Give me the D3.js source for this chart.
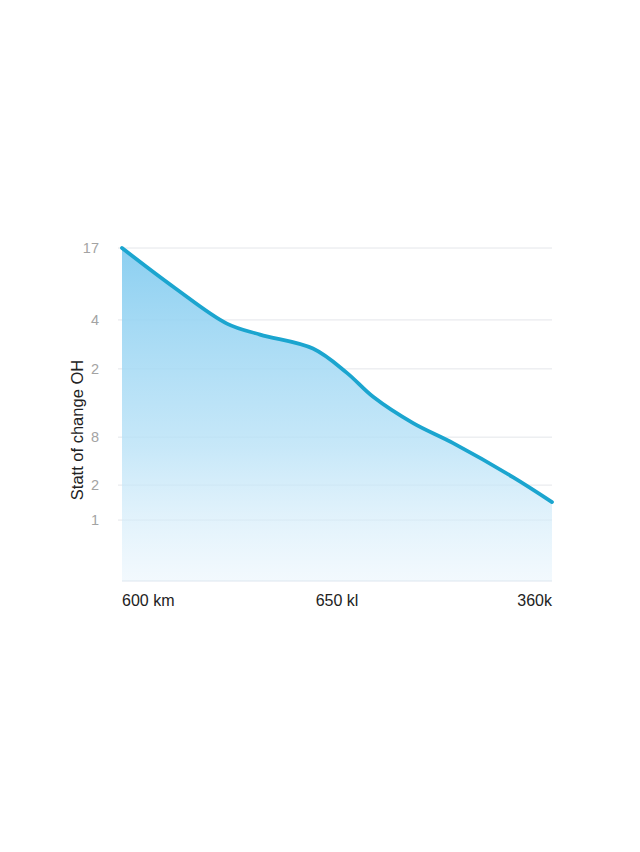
<!DOCTYPE html>
<meta charset="utf-8">
<style>
body { margin: 0; background: #fff; }
text { font-family: "Liberation Sans", Arial, sans-serif; }
</style>
<body>
<svg></svg>
<script src="https://cdnjs.cloudflare.com/ajax/libs/d3/7.8.5/d3.min.js"></script>
<script>

// position along route (0..100) and value (0..100 of y range)
var xs = [0, 12.3, 24.4, 32.1, 44.4, 52.3, 58.4, 67.7, 77.0, 90.9, 100];
var ys = [100, 88.0, 77.3, 74.0, 69.8, 62.5, 55.3, 47.4, 41.4, 31.2, 23.7];

var yTicks = [100, 78.4, 63.7, 43.2, 28.8, 18.3];
var yLabels = ["17", "4", "2", "8", "2", "1"];

var xTicks = [0, 50, 100];
var xLabels = ["600 km", "650 kl", "360k"];

var W = 640, H = 852;
var mLeft = 122, mRight = 552, mTop = 248, mBottom = 581;

var svg = d3.select("svg").attr("width", W).attr("height", H);

var x = d3.scaleLinear().domain([0, 100]).range([mLeft, mRight]);
var y = d3.scaleLinear().domain([0, 100]).range([mBottom, mTop]);

var data = xs.map((d, i) => ({x: d, y: ys[i]}));

var grad = svg.append("defs").append("linearGradient")
	.attr("id", "fill").attr("x1", 0).attr("y1", 0).attr("x2", 0).attr("y2", 1);
grad.append("stop").attr("offset", "0%").attr("stop-color", "#86cdf0").attr("stop-opacity", 0.95);
grad.append("stop").attr("offset", "60%").attr("stop-color", "#b9e2f7").attr("stop-opacity", 0.8);
grad.append("stop").attr("offset", "100%").attr("stop-color", "#e6f3fc").attr("stop-opacity", 0.5);

// grid
svg.append("g").selectAll("line")
	.data(yTicks)
	.enter().append("line")
	.attr("x1", mLeft - 4).attr("x2", mRight)
	.attr("y1", d => y(d)).attr("y2", d => y(d))
	.attr("stroke", "#e4e6ea").attr("stroke-width", 1);

var curve = d3.curveCatmullRom.alpha(0.5);

var area = d3.area()
	.x(d => x(d.x)).y0(y(0)).y1(d => y(d.y))
	.curve(curve);

var line = d3.line()
	.x(d => x(d.x)).y(d => y(d.y))
	.curve(curve);

svg.append("path").datum(data).attr("d", area).attr("fill", "url(#fill)");

svg.append("line")
	.attr("x1", mLeft).attr("x2", mRight)
	.attr("y1", mBottom).attr("y2", mBottom)
	.attr("stroke", "#dde6ef");

svg.append("path").datum(data).attr("d", line)
	.attr("fill", "none").attr("stroke", "#1ba5cf")
	.attr("stroke-width", 3.8).attr("stroke-linecap", "round");

// y labels
svg.append("g").selectAll("text")
	.data(yTicks)
	.enter().append("text")
	.attr("x", 99).attr("y", d => y(d)).attr("dy", "0.35em")
	.attr("text-anchor", "end")
	.attr("font-size", 14.5).attr("fill", "#a3a3a3")
	.text((d, i) => yLabels[i]);

// x labels
svg.append("g").selectAll("text")
	.data(xTicks)
	.enter().append("text")
	.attr("x", d => x(d)).attr("y", 606)
	.attr("text-anchor", (d, i) => i == 0 ? "start" : i == xTicks.length - 1 ? "end" : "middle")
	.attr("font-size", 16).attr("fill", "#222")
	.text((d, i) => xLabels[i]);

svg.append("text")
	.attr("transform", "translate(83,430) rotate(-90)")
	.attr("text-anchor", "middle")
	.attr("font-size", 16.5).attr("fill", "#222")
	.text("Statt of change OH");
</script>
